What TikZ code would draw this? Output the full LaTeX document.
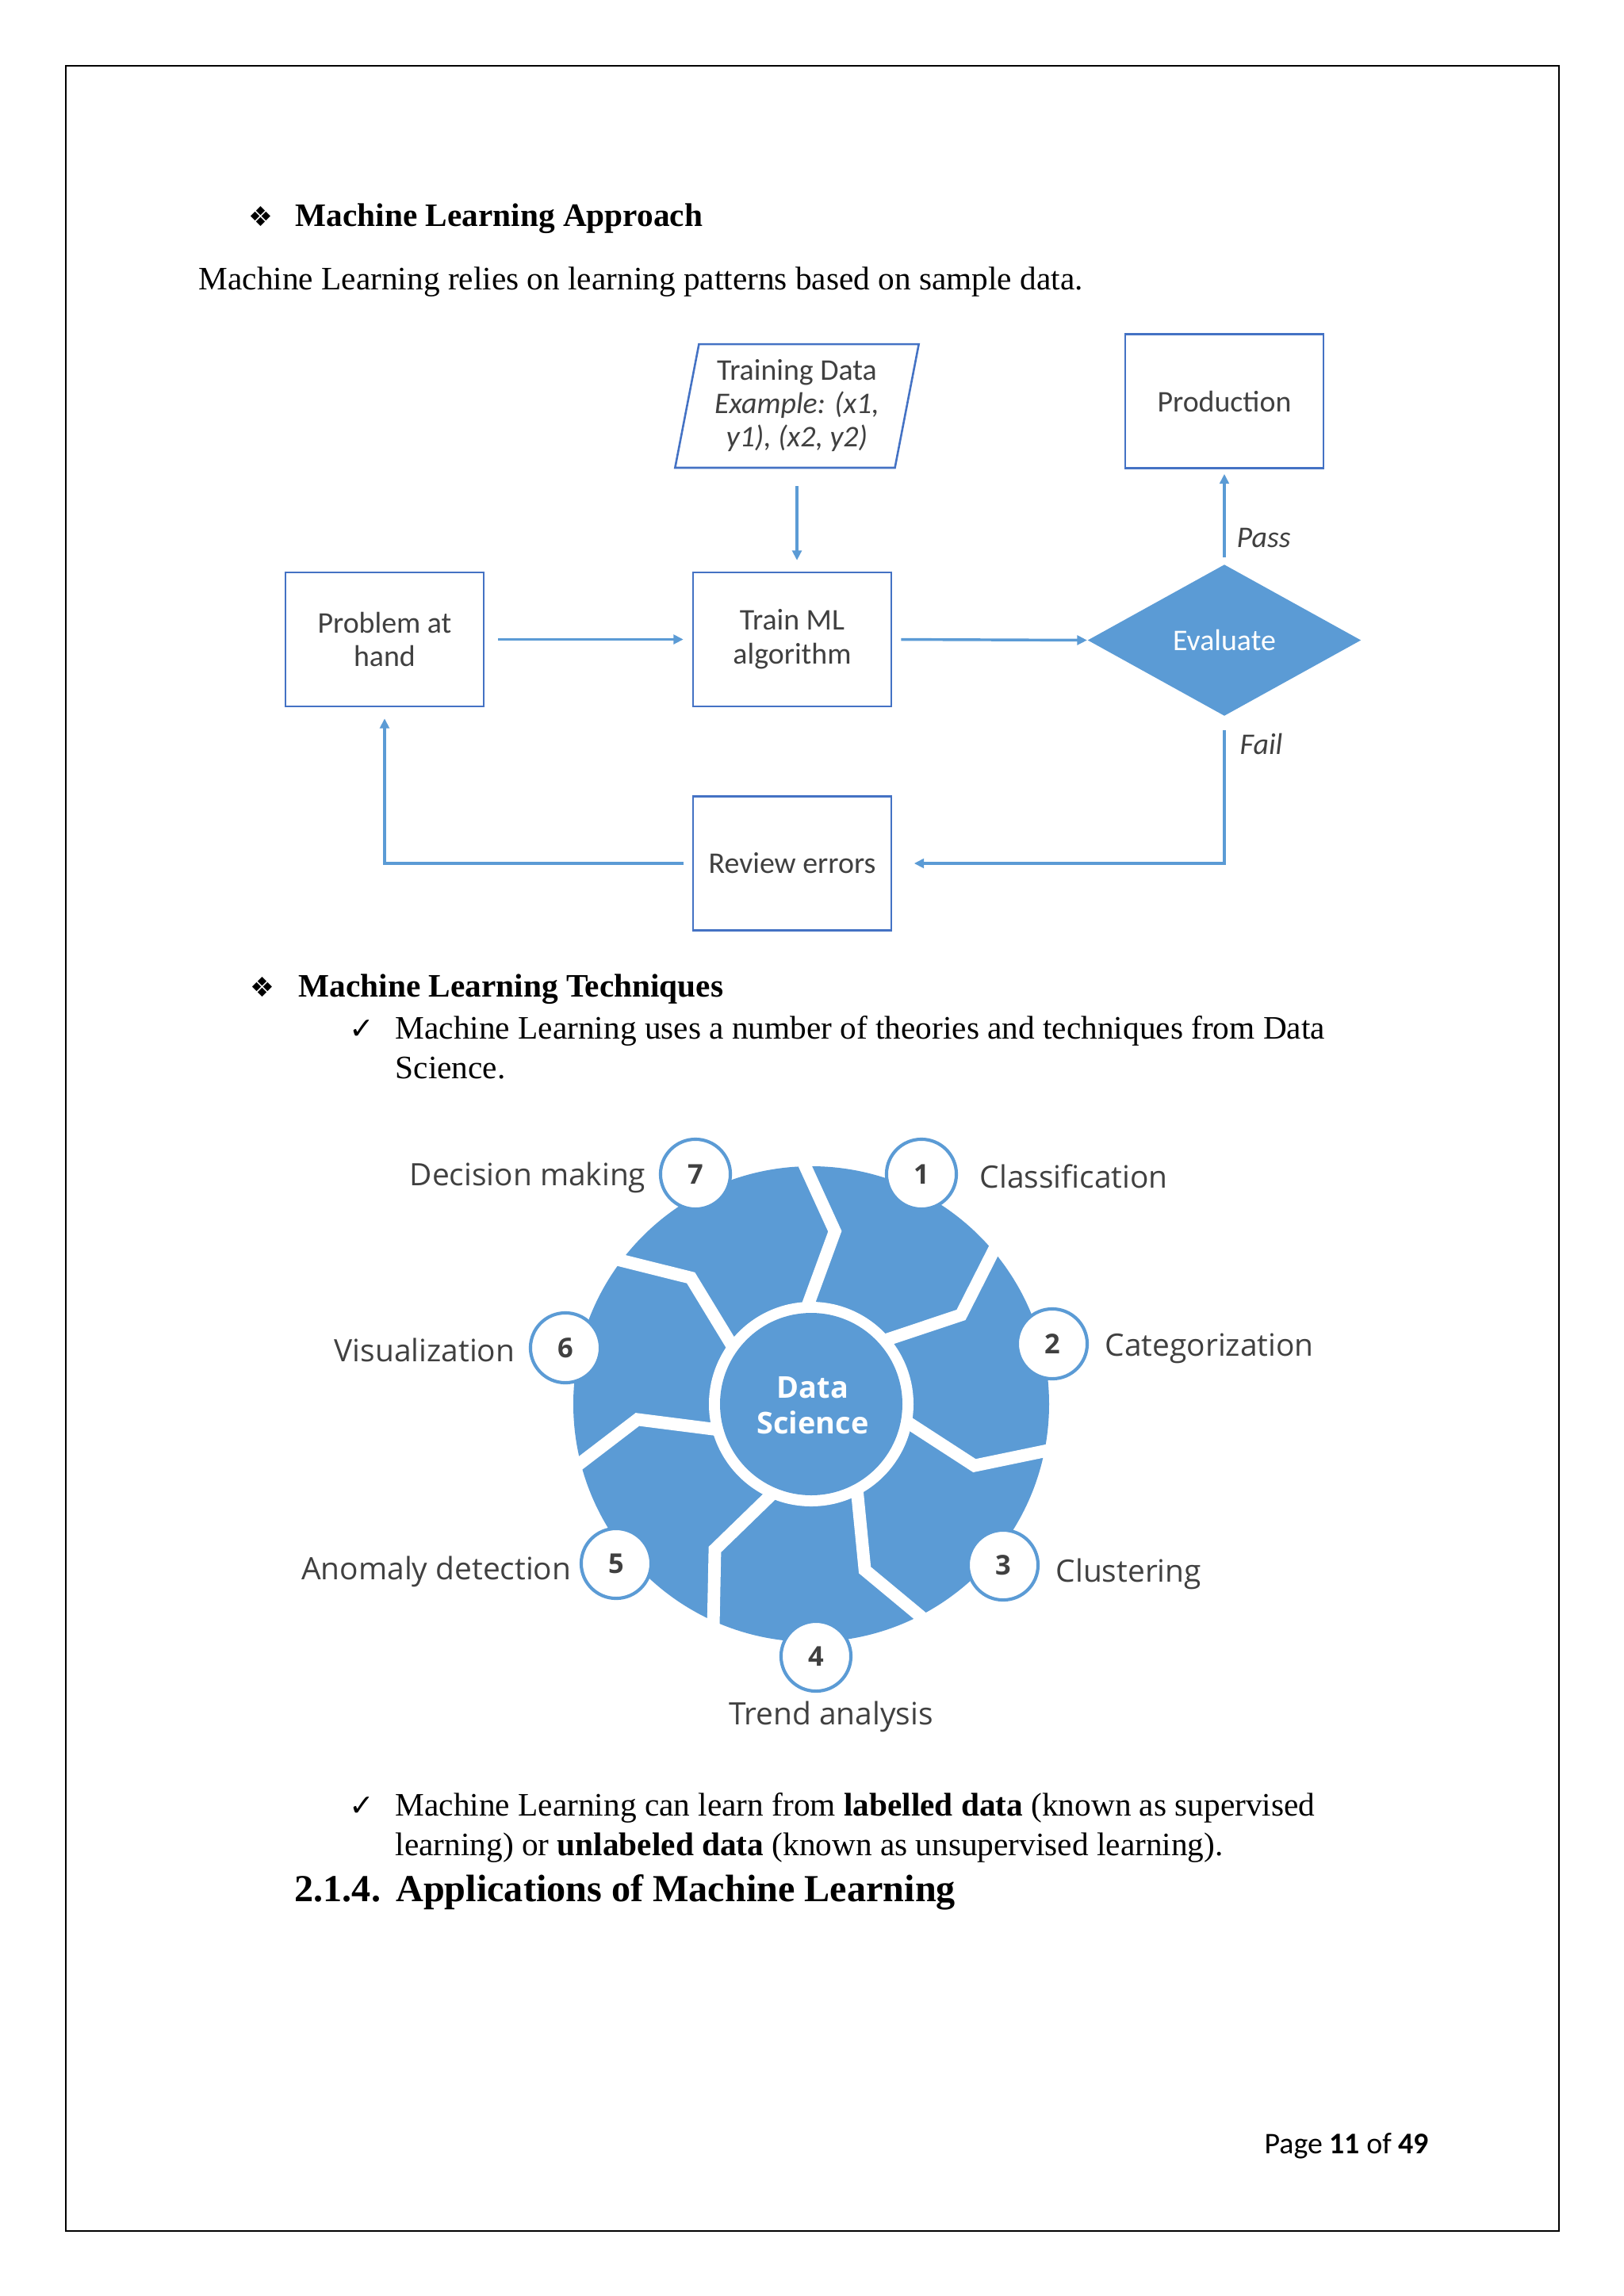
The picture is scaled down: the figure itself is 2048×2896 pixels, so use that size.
\documentclass[tikz,border=0pt]{standalone}
\usepackage{fontspec}
\setmainfont{Liberation Serif}
\newfontfamily\calfont{Carlito}
\newfontfamily\osfont{Open Sans}
\newfontfamily\symfont{DejaVu Sans}
\usetikzlibrary{arrows.meta,shapes.geometric}
\definecolor{wblue}{HTML}{5B9BD5}
\definecolor{bblue}{HTML}{4472C4}
\definecolor{tgray}{HTML}{404040}
\begin{document}
\begin{tikzpicture}[x=0.2905pt,y=-0.2905pt,
  body/.style={anchor=base west,inner sep=0pt,font=\fontsize{12}{14}\selectfont},
  fbox/.style={draw=bblue,line width=0.75pt,fill=white,minimum width=72.6pt,minimum height=49.2pt,inner sep=0pt,align=center,text=tgray,font=\calfont\fontsize{11}{12.4}\selectfont},
  arr/.style={draw=wblue,line width=1pt,-{Triangle[length=3.6pt,width=3.4pt]}},
  lbl/.style={inner sep=0pt,text=tgray,font=\calfont\itshape\fontsize{11}{13}\selectfont},
  numc/.style={circle,draw=wblue,line width=1.2pt,fill=white,minimum size=25.6pt,inner sep=0pt,text=tgray,font=\osfont\bfseries\fontsize{10}{12}\selectfont},
  wlab/.style={inner sep=0pt,text=tgray,font=\osfont\fontsize{11.3}{13}\selectfont}]
\useasboundingbox (0,0) rectangle (2048,2896);
\fill[white] (0,0) rectangle (2048,2896);
\draw[line width=0.7pt] (83,83) rectangle (1966,2814);

% Section 1
\node[anchor=base,inner sep=0pt,font=\symfont\fontsize{10}{12}\selectfont] (b1) at (329,285) {❖};
\node[body,font=\bfseries\fontsize{12}{14}\selectfont] (h1) at (372,285) {Machine Learning Approach};
\node[body] (p1) at (250,365) {Machine Learning relies on learning patterns based on sample data.};

% Flowchart
\node[trapezium,trapezium left angle=77.7,trapezium right angle=102.3,trapezium stretches=true,draw=bblue,line width=0.75pt,fill=white,minimum width=89.5pt,minimum height=45.3pt,inner sep=0pt,align=center,text=tgray,font=\calfont\fontsize{11}{12.2}\selectfont] (td) at (1005,512) {Training Data\\ \itshape Example: (x1,\\ \itshape y1), (x2, y2)};
\node[fbox] (prod) at (1544,506) {Production};
\node[fbox] (prob) at (485,806.5) {Problem at\\ hand};
\node[fbox] (train) at (999,806.5) {Train ML\\ algorithm};
\node[fbox] (rev) at (999,1089) {Review errors};
\node[diamond,aspect=1.806,fill=wblue,minimum width=100.2pt,minimum height=55.5pt,inner sep=0pt,text=white,font=\calfont\fontsize{11}{13}\selectfont] (eval) at (1544,807.5) {Evaluate};

\draw[arr,shorten <=6.4pt,shorten >=4pt] (td.south) -- (td.south |- train.north);
\draw[arr,shorten <=5pt,shorten >=3.2pt] (prob.east) -- (train.west);
\draw[arr,shorten <=3.2pt] (train.east) -- (eval.west);
\draw[arr,shorten <=2.3pt,shorten >=1.7pt] (eval.north) -- (prod.south);
\draw[arr,shorten <=5pt,shorten >=8pt] (eval.south) |- (rev.east);
\draw[arr,shorten <=3pt,shorten >=4pt] (rev.west) -| (prob.south);
\node[lbl,anchor=west] (pass) at (1559,678) {Pass};
\node[lbl,anchor=west] (fail) at (1563,938) {Fail};

% Section 2
\node[anchor=base,inner sep=0pt,font=\symfont\fontsize{10}{12}\selectfont] (b2) at (331,1257) {❖};
\node[body,font=\bfseries\fontsize{12}{14}\selectfont] (h2) at (376,1257) {Machine Learning Techniques};
\node[anchor=base,inner sep=0pt,font=\symfont\fontsize{11}{13}\selectfont] (c1) at (456,1310) {✓};
\node[body] (p2a) at (498,1310) {Machine Learning uses a number of theories and techniques from Data};
\node[body] (p2b) at (498,1360) {Science.};

% Wheel
\begin{scope}[shift={(1023,1771)}]
  \fill[wblue] (0,0) circle (300);
  \foreach \k in {0,...,6}{
    \draw[white,line width=4.6pt,line join=miter]
      ({-(92.9-51.43*\k)}:120) -- ({-(82.2-51.43*\k)}:220) -- ({-(94.3-51.43*\k)}:340);
  }
  \fill[white] (0,0) circle (129);
  \fill[wblue] (0,0) circle (115);
\end{scope}
\node[inner sep=0pt,align=center,text=white,font=\osfont\bfseries\fontsize{11}{13}\selectfont] (ds) at (1025,1773) {Data\\Science};

\node[numc] (n1) at (1162,1481) {1};
\node[numc] (n2) at (1327,1695) {2};
\node[numc] (n3) at (1265,1974) {3};
\node[numc] (n4) at (1029,2089) {4};
\node[numc] (n5) at (777,1972) {5};
\node[numc] (n6) at (713,1700) {6};
\node[numc] (n7) at (877,1481) {7};

\node[wlab,anchor=base west] (l1) at (1235,1498) {Classification};
\node[wlab,anchor=base west] (l2) at (1393,1710) {Categorization};
\node[wlab,anchor=base west] (l3) at (1331,1995) {Clustering};
\node[wlab,anchor=base] (l4) at (1048,2175) {Trend analysis};
\node[wlab,anchor=base east] (l5) at (721,1992) {Anomaly detection};
\node[wlab,anchor=base east] (l6) at (650,1717) {Visualization};
\node[wlab,anchor=base east] (l7) at (815,1495) {Decision making};

% Section 3
\node[anchor=base,inner sep=0pt,font=\symfont\fontsize{11}{13}\selectfont] (c2) at (456,2290) {✓};
\node[body] (p3a) at (498,2290) {Machine Learning can learn from \textbf{labelled data} (known as supervised};
\node[body] (p3b) at (498,2340) {learning) or \textbf{unlabeled data} (known as unsupervised learning).};
\node[body,font=\bfseries\fontsize{14}{16}\selectfont] (h3) at (371,2398) {2.1.4.\hspace{0.4em}Applications of Machine Learning};

\node[anchor=base west,inner sep=0pt,font=\calfont\fontsize{11}{13}\selectfont] (pg) at (1594,2716) {Page \textbf{11} of \textbf{49}};
\end{tikzpicture}
\end{document}
